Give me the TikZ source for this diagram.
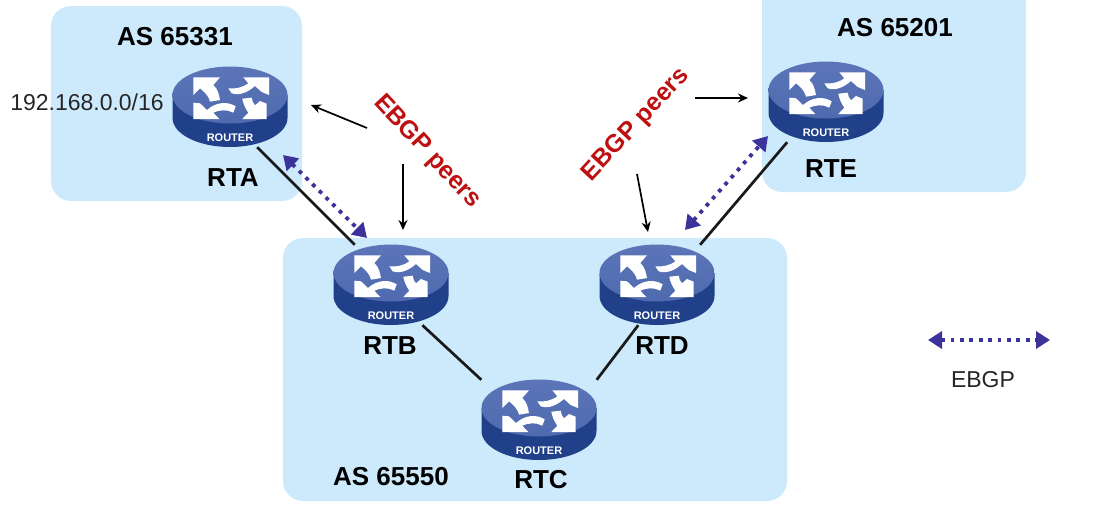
\documentclass[tikz,border=0pt]{standalone}
\usepackage{xcolor}
\usepackage{fontspec}
\setmainfont{Liberation Sans}
\usetikzlibrary{arrows.meta,calc,positioning}
\definecolor{zoneblue}{HTML}{CCEAFB}
\definecolor{routertop}{HTML}{506AAF}
\definecolor{routerlight}{HTML}{5B75B8}
\definecolor{routerside}{HTML}{21408A}
\definecolor{ebgpblue}{HTML}{3B329B}
\definecolor{peerred}{HTML}{BE1010}
\tikzset{
  zone/.style={fill=zoneblue,rounded corners=20pt},
  routerbox/.style={minimum width=115pt,minimum height=80pt,inner sep=0pt},
  routername/.style={font=\fontsize{26}{28}\selectfont\bfseries,inner sep=0pt},
  peertext/.style={font=\fontsize{25}{27}\selectfont\bfseries,text=peerred,inner sep=0pt},
  plaintext/.style={font=\fontsize{23}{25}\selectfont,text=black!85,inner sep=0pt},
  link/.style={line width=2.7pt,black!90},
  pointer/.style={line width=1.7pt,-{Stealth[length=10pt,width=9pt]}},
  ebgp/.style={line width=3.8pt,ebgpblue,dash pattern=on 3.8pt off 5.6pt,
    {Triangle[length=14pt,width=17pt]}-{Triangle[length=14pt,width=17pt]}},
  pics/router/.style={code={
    \fill[routerside] (-57.5,-12) -- (-57.5,11) arc (180:0:57.5 and 29) -- (57.5,-12) -- cycle;
    \shade[top color=routerlight,bottom color=routertop] (0,-12) ellipse (57.5 and 28.5);
    % four arrows of the icon
    \fill[white] (-36.7,-29.7) -- (-10,-29.7) -- (-16.7,-22) .. controls (-12,-18) and (-11,-12) .. (-10,-7) -- (-20,-5.3) .. controls (-21,-10) and (-24,-14) .. (-30,-18.7) -- (-36.7,-12) -- cycle;
    \fill[white] (39,-29.7) -- (13.3,-29.7) -- (18.3,-23.7) .. controls (12,-19) and (5,-18) .. (-1.7,-18.7) -- (1.7,-13.7) .. controls (10,-11) and (18,-15) .. (25,-21) -- (31.7,-15) -- (39,-12) -- cycle;
    \fill[white] (-36.7,12) -- (-10.7,12) -- (-16.7,5.7) .. controls (-11,3) and (-3,2) .. (3.3,5.7) -- (5.7,-0.7) .. controls (-3,-6) and (-14,-5) .. (-23,3) -- (-30,-3.7) -- (-36.7,-4.3) -- cycle;
    \fill[white] (36.7,12) -- (12.3,12) -- (18.3,5.7) .. controls (15,1) and (13,-4) .. (12.3,-8.3) -- (21.7,-9.3) .. controls (22,-6) and (23,-4) .. (25,-1.7) -- (30,-6) -- (36.7,-3.3) -- cycle;
    \node[white,font=\fontsize{11}{12}\selectfont\bfseries,inner sep=0pt] at (0,31) {ROUTER};
  }}
}
\begin{document}
\begin{tikzpicture}[x=1pt,y=-1pt,line cap=butt]
\useasboundingbox (0,0) rectangle (1106,515);
% zones
\fill[zone] (51,6) rectangle (302,201);
\fill[zone] (762,-30) rectangle (1026,192);
\fill[zone] (283,238) rectangle (787,501);
% routers
\node[routerbox] (RTA) at (230,107) {};
\node[routerbox] (RTB) at (391,285) {};
\node[routerbox] (RTC) at (539,420) {};
\node[routerbox] (RTD) at (657,285) {};
\node[routerbox] (RTE) at (826,102) {};
\draw[link] (RTA.-56) -- (RTB.132);
\draw[link] (RTB.-52) -- (RTC.north west);
\draw[link] (RTC.north east) -- (RTD.-115);
\draw[link] (RTD.43.6) -- (RTE.226.5);
\foreach \r in {RTA,RTB,RTC,RTD,RTE}
  \pic at (\r) {router};
% names
\node[routername] (nameA) at (233,178) {RTA};
\node[routername] (nameB) at (390,346) {RTB};
\node[routername] (nameC) at (541,480) {RTC};
\node[routername] (nameD) at (662,346) {RTD};
\node[routername] (nameE) at (831,169) {RTE};
\node[routername] (as331) at (175,37) {AS 65331};
\node[routername] (as201) at (895,28) {AS 65201};
\node[routername] (as550) at (391,477) {AS 65550};
\node[plaintext] (net) at (87,102) {192.168.0.0/16};
% peers
\node[peertext,rotate=-47] (peerL) at (427,152) {EBGP peers};
\node[peertext,rotate=47] (peerR) at (636,125) {EBGP peers};
\coordinate (ptA) at (311,105);
\coordinate (ptAs) at (367,128);
\coordinate (ptB) at (403,230);
\coordinate (ptBs) at (403,164);
\coordinate (ptD) at (648,232);
\coordinate (ptDs) at (637,174);
\coordinate (ptE) at (748,98);
\coordinate (ptEs) at (695,98);
\draw[pointer] (ptAs) -- (ptA);
\draw[pointer] (ptBs) -- (ptB);
\draw[pointer] (ptDs) -- (ptD);
\draw[pointer] (ptEs) -- (ptE);
% ebgp arrows
\coordinate (ebA) at (283,155);
\coordinate (ebB) at (367,238);
\coordinate (ebD) at (685,230);
\coordinate (ebE) at (768,136);
\coordinate (legL) at (928,340);
\coordinate (legR) at (1050,340);
\draw[ebgp] (ebA) -- (ebB);
\draw[ebgp] (ebD) -- (ebE);
\draw[ebgp] (legL) -- (legR);
\node[plaintext] (legend) at (983,380) {EBGP};
\end{tikzpicture}
\end{document}
